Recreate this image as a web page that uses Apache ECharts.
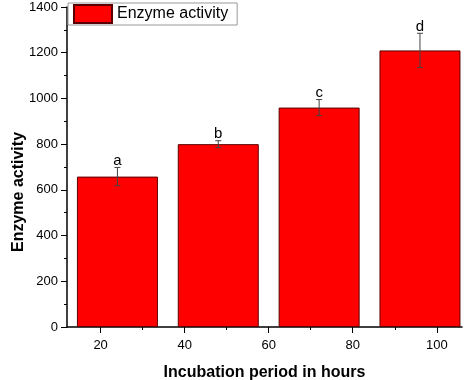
<!DOCTYPE html>
<html>
<head>
<meta charset="utf-8">
<script src="https://cdn.jsdelivr.net/npm/echarts@6/dist/echarts.min.js"></script>
<style>html,body{margin:0;padding:0;background:#fff;}#c{width:474px;height:380px;}</style>
</head>
<body>
<div id="c"></div>
<script>
var hours = [24, 48, 72, 96];
var activity = [658, 800, 960, 1210];
var errors = [40, 15, 35, 75];
var letters = ['a', 'b', 'c', 'd'];
var xMajorTicks = [20, 40, 60, 80, 100];
var xMinorTicks = [30, 50, 70, 90];

var chart = echarts.init(document.getElementById('c'));
var font = 'Liberation Sans, Arial, sans-serif';
var barData = hours.map(function (h, i) { return [h, activity[i]]; });
var errData = hours.map(function (h, i) { return [h, activity[i] - errors[i], activity[i] + errors[i], i]; });

chart.setOption({
  animation: false,
  backgroundColor: '#fff',
  grid: { left: 67, right: 12, top: 7, bottom: 53, containLabel: false, outerBoundsMode: 'none' },
  legend: {
    left: 68, top: 3,
    padding: [1, 9, 1, 5],
    borderColor: '#999', borderWidth: 1, backgroundColor: '#fff',
    itemWidth: 38, itemHeight: 18,
    icon: 'rect',
    textStyle: { fontFamily: font, fontSize: 16, color: '#000' },
    data: ['Enzyme activity']
  },
  xAxis: [{
    type: 'value', min: 12, max: 106,
    name: 'Incubation period in hours', nameLocation: 'middle', nameGap: 38,
    nameMoveOverlap: false,
    nameTextStyle: { fontFamily: font, fontSize: 16, fontWeight: 'bold', color: '#000' },
    axisLine: { show: true, lineStyle: { color: '#000', width: 1.5 } },
    axisTick: { show: true, inside: false, length: 6, customValues: xMajorTicks, lineStyle: { color: '#000' } },
    axisLabel: { customValues: xMajorTicks, fontFamily: font, fontSize: 13, color: '#000', margin: 12 },
    splitLine: { show: false }
  }, {
    type: 'value', min: 12, max: 106, position: 'bottom',
    axisLine: { show: false },
    axisTick: { show: true, inside: false, length: 3, customValues: xMinorTicks, lineStyle: { color: '#000' } },
    axisLabel: { show: false },
    splitLine: { show: false }
  }],
  yAxis: {
    type: 'value', min: 0, max: 1400, interval: 200,
    name: 'Enzyme activity', nameLocation: 'middle', nameGap: 40,
    nameMoveOverlap: false,
    nameTextStyle: { fontFamily: font, fontSize: 16, fontWeight: 'bold', color: '#000', padding: [0, 50, 0, 0] },
    axisLine: { show: true, lineStyle: { color: '#000', width: 1.5 } },
    axisTick: { show: true, inside: false, length: 6, lineStyle: { color: '#000' } },
    minorTick: { show: true, splitNumber: 2, length: 3, lineStyle: { color: '#000' } },
    axisLabel: { fontFamily: font, fontSize: 13, color: '#000', margin: 9, formatter: function (v) { return String(v); } },
    splitLine: { show: false }
  },
  series: [{
    name: 'Enzyme activity',
    type: 'bar',
    xAxisIndex: 0,
    data: barData,
    barWidth: 81,
    itemStyle: { color: '#ff0000', borderColor: '#5a0000', borderWidth: 1 }
  }, {
    type: 'custom',
    xAxisIndex: 0,
    data: errData,
    z: 10,
    renderItem: function (params, api) {
      var x = api.value(0);
      var lo = api.coord([x, api.value(1)]);
      var hi = api.coord([x, api.value(2)]);
      var idx = api.value(3);
      var cap = 3;
      var st = { stroke: '#444', lineWidth: 1 };
      return {
        type: 'group',
        children: [
          { type: 'line', shape: { x1: hi[0], y1: hi[1], x2: lo[0], y2: lo[1] }, style: st },
          { type: 'line', shape: { x1: hi[0] - cap, y1: hi[1], x2: hi[0] + cap, y2: hi[1] }, style: st },
          { type: 'line', shape: { x1: lo[0] - cap, y1: lo[1], x2: lo[0] + cap, y2: lo[1] }, style: st },
          { type: 'text', style: { text: letters[idx], x: hi[0], y: hi[1] + 1, align: 'center', verticalAlign: 'bottom', fontFamily: font, fontSize: 15, fill: '#000' } }
        ]
      };
    }
  }]
});
</script>
</body>
</html>
